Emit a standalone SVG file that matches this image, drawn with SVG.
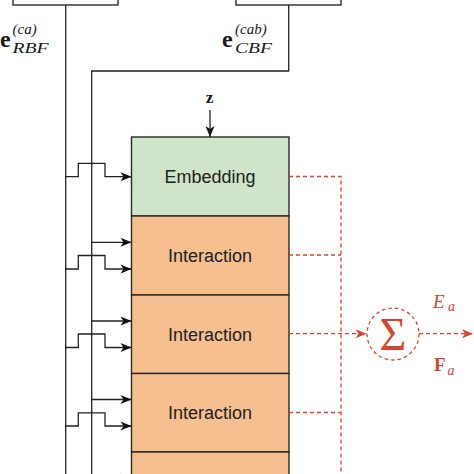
<svg xmlns="http://www.w3.org/2000/svg" width="474" height="474" viewBox="0 0 474 474">
<style>
.blk{stroke:#2a2a2a;stroke-width:1.4}
.emb{fill:#cfe4c8}
.int{fill:#f6bf8f}
.lbl{font-family:"Liberation Sans",Arial,sans-serif;font-size:18px;fill:#222;text-anchor:middle}
.wire{fill:none;stroke:#222;stroke-width:1.3}
.red{fill:none;stroke:#d8452f;stroke-width:1.3;stroke-dasharray:4 3}
.math{font-family:"Liberation Serif","Times New Roman",serif;fill:#1a1a1a}
.rmath{font-family:"Liberation Serif","Times New Roman",serif;fill:#d8452f}
</style>
<defs>
<marker id="ab" viewBox="-12 -6 13 12" refX="0" refY="0" markerWidth="13" markerHeight="12" markerUnits="userSpaceOnUse" orient="auto">
<path d="M-11,-4.5 L0,0 L-11,4.5 L-8,0 z" fill="#111"/>
</marker>
<marker id="ar" viewBox="-12 -6 13 12" refX="0" refY="0" markerWidth="13" markerHeight="12" markerUnits="userSpaceOnUse" orient="auto">
<path d="M-11,-4.5 L0,0 L-11,4.5 L-8,0 z" fill="#d8452f"/>
</marker>
</defs>
<rect width="474" height="474" fill="#fff"/>

<g id="rbf-box"><rect x="13" y="-30" width="105" height="35" fill="#fff" class="blk"/></g>
<g id="cbf-box"><rect x="236" y="-30" width="105" height="35" fill="#fff" class="blk"/></g>

<g id="label-rbf" class="math">
<text x="0" y="46.5" font-size="24" font-weight="bold">e</text>
<text x="12.5" y="34" font-size="15" font-style="italic">(ca)</text>
<text x="12.5" y="53.3" font-size="15" font-style="italic" textLength="36" lengthAdjust="spacingAndGlyphs">RBF</text>
</g>
<g id="label-cbf" class="math">
<text x="222" y="46.5" font-size="24" font-weight="bold">e</text>
<text x="235" y="34" font-size="15" font-style="italic">(cab)</text>
<text x="235" y="53.3" font-size="15" font-style="italic" textLength="37" lengthAdjust="spacingAndGlyphs">CBF</text>
</g>
<g id="label-z" class="math"><text x="209.5" y="103" font-size="17" font-weight="bold" text-anchor="middle">z</text></g>

<g id="embedding"><rect x="131.5" y="137" width="157.5" height="79" class="blk emb"/><text x="210" y="183" class="lbl">Embedding</text></g>
<g id="interaction-1"><rect x="131.5" y="216" width="157.5" height="79" class="blk int"/><text x="210" y="262" class="lbl">Interaction</text></g>
<g id="interaction-2"><rect x="131.5" y="295" width="157.5" height="78.5" class="blk int"/><text x="210" y="340.5" class="lbl">Interaction</text></g>
<g id="interaction-3"><rect x="131.5" y="373.5" width="157.5" height="78.5" class="blk int"/><text x="210" y="419" class="lbl">Interaction</text></g>
<g id="interaction-4"><rect x="131.5" y="452" width="157.5" height="79" class="blk int"/></g>

<g id="sum">
<circle cx="393" cy="334" r="26" fill="none" stroke="#d8452f" stroke-width="1.3" stroke-dasharray="3.5 3"/>
<text x="393" y="350" font-size="46" text-anchor="middle" class="rmath">Σ</text>
</g>
<g id="label-E" class="rmath">
<text x="433" y="307.5" font-size="19" font-style="italic">E</text>
<text x="448" y="311" font-size="14" font-style="italic">a</text>
</g>
<g id="label-F" class="rmath">
<text x="434" y="371" font-size="19" font-weight="bold">F</text>
<text x="447.5" y="374.5" font-size="14" font-style="italic">a</text>
</g>

<g id="connectors">
<path class="wire" d="M65.7,5 V474"/>
<path class="wire" d="M288.7,5 V71 H91.7 V474"/>
<path class="wire" d="M210,110 V137" marker-end="url(#ab)"/>
<path class="wire" d="M65.7,176.7 H78.3 V163.3 H105 V176.7 H131.5" marker-end="url(#ab)"/>
<path class="wire" d="M91.7,242.3 H131.5" marker-end="url(#ab)"/>
<path class="wire" d="M65.7,269 H78.3 V255.5 H105 V269 H131.5" marker-end="url(#ab)"/>
<path class="wire" d="M91.7,321 H131.5" marker-end="url(#ab)"/>
<path class="wire" d="M65.7,347.5 H78.3 V334 H105 V347.5 H131.5" marker-end="url(#ab)"/>
<path class="wire" d="M91.7,399.5 H131.5" marker-end="url(#ab)"/>
<path class="wire" d="M65.7,426 H78.3 V412.8 H105 V426 H131.5" marker-end="url(#ab)"/>
<path class="wire" d="M91.7,478 H131.5" marker-end="url(#ab)"/>
<path class="red" d="M289,176.5 H341 V474"/>
<path class="red" d="M289,255 H341"/>
<path class="red" d="M289,412.5 H341"/>
<path class="red" d="M289,333.7 H366.5" marker-end="url(#ar)"/>
<path class="red" d="M419,333.7 H473" marker-end="url(#ar)"/>
</g>
</svg>
